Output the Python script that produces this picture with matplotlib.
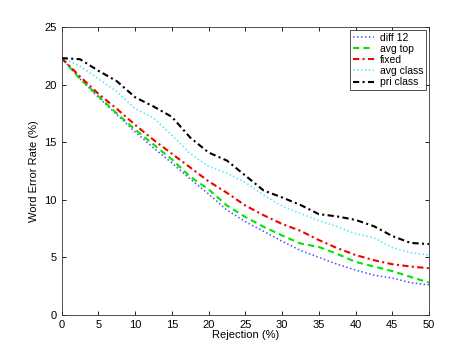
import numpy as np
import matplotlib
matplotlib.use('Agg')
from matplotlib import pyplot as plt

plt.rcParams['font.family'] = ['Liberation Sans', 'DejaVu Sans']

rejection = [0, 2.5, 5, 7.5, 10, 12.5, 15, 17.5, 20, 22.5, 25,
             27.5, 30, 32.5, 35, 37.5, 40, 42.5, 45, 47.5, 50]

diff12 = [22.3, 20.5, 18.9, 17.4, 15.9, 14.5, 13.2, 11.8, 10.5, 9.1, 8.1,
          7.25, 6.4, 5.6, 5.0, 4.4, 3.9, 3.45, 3.2, 2.8, 2.6]
avg_top = [22.3, 20.5, 19.0, 17.5, 16.1, 14.8, 13.5, 12.0, 10.9, 9.5, 8.5,
           7.65, 6.9, 6.2, 5.9, 5.3, 4.6, 4.2, 3.8, 3.3, 2.8]
fixed = [22.3, 20.7, 19.2, 17.9, 16.5, 15.2, 14.0, 12.8, 11.6, 10.6, 9.5,
         8.65, 7.9, 7.3, 6.5, 5.8, 5.2, 4.75, 4.4, 4.2, 4.05]
avg_class = [22.3, 21.6, 20.5, 19.4, 17.9, 17.1, 15.6, 14.0, 12.9, 12.3, 11.5,
             10.4, 9.45, 8.8, 8.2, 7.65, 7.05, 6.7, 5.85, 5.4, 5.2]
pri_class = [22.3, 22.2, 21.2, 20.3, 18.9, 18.1, 17.2, 15.4, 14.1, 13.4, 12.1,
             10.8, 10.2, 9.55, 8.75, 8.55, 8.25, 7.7, 6.85, 6.25, 6.15]

fig = plt.figure(figsize=(4.74, 3.55), dpi=100)
ax = fig.add_axes([0.13, 0.113, 0.775, 0.811])

ax.plot(rejection, diff12, linestyle=(0, (1, 1.6)), color=(0.3, 0.3, 1.0),
        linewidth=1.1, label='diff 12')
ax.plot(rejection, avg_top, linestyle=(0, (3, 2)), color=(0, 0.9, 0),
        linewidth=1.5, label='avg top')
ax.plot(rejection, fixed, linestyle=(0, (3, 1.6, 1, 1.6)), color=(0.95, 0, 0),
        linewidth=1.5, label='fixed')
ax.plot(rejection, avg_class, linestyle=(0, (1, 1.6)), color=(0.3, 0.9, 1.0),
        linewidth=1.1, label='avg class')
ax.plot(rejection, pri_class, linestyle=(0, (3, 1.6, 1, 1.6)), color='black',
        linewidth=1.5, label='pri class')

ax.set_xlim(0, 50)
ax.set_ylim(0, 25)
ax.set_xticks(np.arange(0, 51, 5))
ax.set_yticks(np.arange(0, 26, 5))
ax.tick_params(direction='in', top=True, right=True, labelsize=8, length=3, width=0.6)
for s in ax.spines.values():
    s.set_linewidth(0.6)
    s.set_color('#333333')

ax.set_xlabel('Rejection (%)', fontsize=8, labelpad=0)
ax.set_ylabel('Word Error Rate (%)', fontsize=8, labelpad=4)

leg = ax.legend(loc='upper right', bbox_to_anchor=(0.993, 0.99), fontsize=7.5,
                fancybox=False, framealpha=1, edgecolor='#333333',
                borderpad=0.3, labelspacing=0.1, handlelength=2.0,
                handletextpad=0.6, borderaxespad=0)
leg.get_frame().set_linewidth(0.6)

plt.savefig('out.png', dpi=100)
